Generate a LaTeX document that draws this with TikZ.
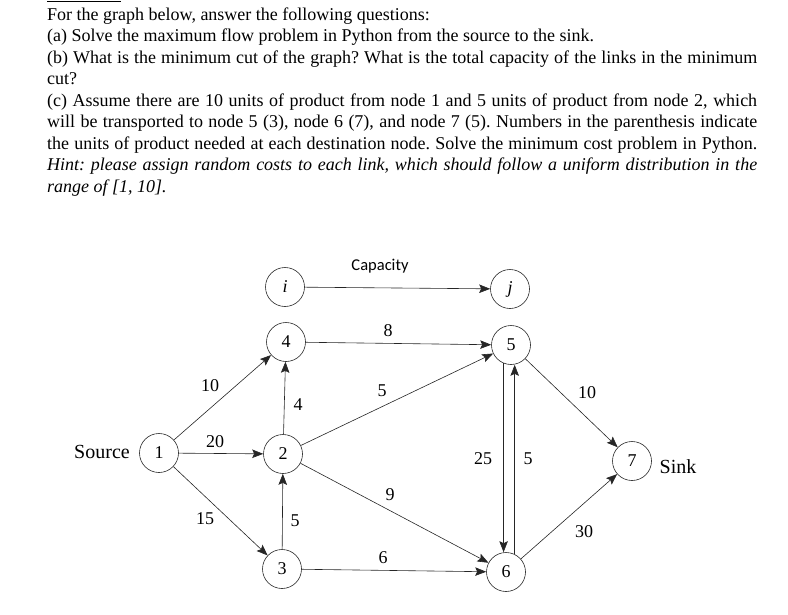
\documentclass[tikz,border=0pt]{standalone}
\usepackage{fontspec}
\setmainfont{Liberation Serif}
\newfontfamily\capfont{Carlito}
\usetikzlibrary{arrows.meta}
\frenchspacing
\begin{document}
\begin{tikzpicture}[x=1pt,y=-1pt,
  vtx/.style={circle,draw=black!85,line width=0.6pt,minimum size=39pt,inner sep=0pt,font=\fontsize{18}{18}\selectfont},
  arr/.style={draw=black!85,line width=0.6pt,-{Stealth[length=11pt,width=8.5pt,inset=2pt]}},
  lbl/.style={font=\fontsize{18}{18}\selectfont,inner sep=0pt},
  side/.style={font=\fontsize{20}{20}\selectfont,inner sep=0pt},
  txt/.style={anchor=base west,inner sep=0pt,font=\fontsize{18}{21}\selectfont\frenchspacing}]
\useasboundingbox (0,0) rectangle (788,614);
% remnant of the cut-off heading underline
\draw[line width=1pt] (47,1) coordinate (ua) -- (121,1) coordinate (ub);
% question text
\node[txt] (t0) at (47,20) {For the graph below, answer the following questions:};
\node[txt] (t1) at (47,41.5) {(a) Solve the maximum flow problem in Python from the source to the sink.};
\node[txt] (t2) at (47,63) {\makebox[710pt][s]{(b) What is the minimum cut of the graph? What is the total capacity of the links in the minimum}};
\node[txt] (t3) at (47,84.5) {cut?};
\node[txt] (t4) at (47,106) {\makebox[710pt][s]{(c) Assume there are 10 units of product from node 1 and 5 units of product from node 2, which}};
\node[txt] (t5) at (47,127.5) {\makebox[710pt][s]{will be transported to node 5 (3), node 6 (7), and node 7 (5). Numbers in the parenthesis indicate}};
\node[txt] (t6) at (47,149) {\makebox[710pt][s]{the units of product needed at each destination node. Solve the minimum cost problem in Python.}};
\node[txt] (t7) at (47,170.5) {\makebox[710pt][s]{\itshape Hint: please assign random costs to each link, which should follow a uniform distribution in the}};
\node[txt] (t8) at (47,192) {\itshape range of [1, 10].};
% graph nodes
\node[vtx] (ni) at (285,287) {\itshape i};
\node[vtx] (nj) at (510,289) {\itshape j};
\node[vtx] (n4) at (286,342) {4};
\node[vtx] (n5) at (511,345) {5};
\node[vtx] (n1) at (159,453) {1};
\node[vtx] (n2) at (283,454) {2};
\node[vtx] (n3) at (282,569) {3};
\node[vtx] (n6) at (506,572) {6};
\node[vtx] (n7) at (632,461) {7};
\node[font=\capfont\fontsize{16.5}{16.5}\selectfont,inner sep=0pt] (cap) at (380,266) {Capacity};
\node[side] (src) at (102,452) {Source};
\node[side] (snk) at (678,467) {Sink};
% edges
\draw[arr] (ni) -- (nj);
\draw[arr] (n4) -- (n5);
\draw[arr] (n1) -- (n4);
\draw[arr] (n2) -- (n4);
\draw[arr] (n2) -- (n5);
\draw[arr] (n1) -- (n2);
\draw[arr] (n1) -- (n3);
\draw[arr] (n3) -- (n2);
\draw[arr] (n2) -- (n6);
\draw[arr] (n3) -- (n6);
\draw[arr] (n5) -- (n7);
\draw[arr] (n6) -- (n7);
\draw[arr] (n5.-112) -- (n5.-112 |- n6.north);
\draw[arr] (n6.64) -- (n6.64 |- n5.south);
% edge labels
\node[lbl] (l8) at (388,331) {8};
\node[lbl] (l10a) at (210,386) {10};
\node[lbl] (l4) at (298,405) {4};
\node[lbl] (l5a) at (382,391) {5};
\node[lbl] (l20) at (215,442) {20};
\node[lbl] (l15) at (205,519) {15};
\node[lbl] (l5b) at (295,521) {5};
\node[lbl] (l9) at (390,495) {9};
\node[lbl] (l6) at (383,558) {6};
\node[lbl] (l10b) at (587,393) {10};
\node[lbl] (l25) at (483,459) {25};
\node[lbl] (l5c) at (528,459) {5};
\node[lbl] (l30) at (584,532) {30};
\end{tikzpicture}
\end{document}
